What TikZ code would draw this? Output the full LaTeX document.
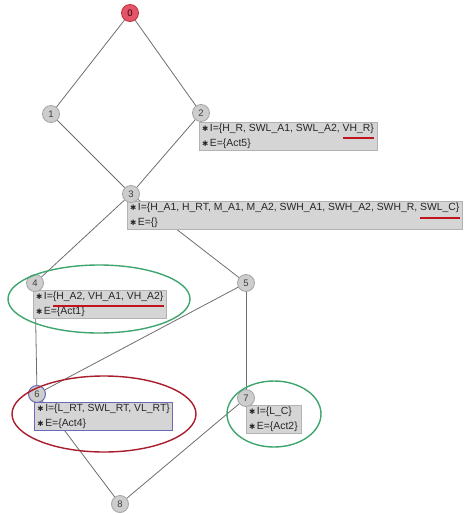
\documentclass[tikz,border=0pt]{standalone}
\usepackage{fontspec}
\setmainfont{Liberation Sans}
\newfontfamily\dejavu{DejaVu Sans}
\usetikzlibrary{backgrounds}
\pgfdeclarelayer{foreground}
\pgfsetlayers{background,main,foreground}
\definecolor{stategray}{HTML}{CDCDCD}
\definecolor{stateline}{HTML}{A4A4A4}
\definecolor{infogray}{HTML}{D5D5D5}
\definecolor{infoline}{HTML}{B2B2B2}
\definecolor{edgegray}{HTML}{6E6E6E}
\definecolor{markred}{HTML}{C0141E}
\definecolor{ringgreen}{HTML}{3FA56E}
\definecolor{ringred}{HTML}{A81C2C}
\definecolor{selblue}{HTML}{6A6AB8}
\definecolor{startred}{HTML}{E2566A}
\newcommand\infofont{\fontsize{10.4}{15}\selectfont}
\newcommand\bugicon{{\dejavu\fontsize{7.5}{7.5}\selectfont ✱}\hspace{1.5pt}}
\newlength\ulvhr
\newlength\ulswlc
\newlength\ulhvv
\begin{document}
\settowidth\ulvhr{\infofont VH\_R\}}
\settowidth\ulswlc{\infofont SWL\_C\}}
\settowidth\ulhvv{\infofont\{H\_A2, VH\_A1, VH\_A2\}}
\begin{tikzpicture}[x=1pt,y=-1pt,
    state/.style={circle,draw=stateline,fill=stategray,line width=0.8pt,minimum size=17pt,inner sep=0pt,font=\fontsize{9.5}{9.5}\selectfont,text=black!75},
    start/.style={state,draw=markred!90,fill=startred,text=red!25!black},
    info/.style={draw=infoline,fill=infogray,anchor=north west,align=left,inner xsep=3pt,inner ysep=1.5pt,font=\infofont,text=black!85},
    picked/.style={draw=selblue,line width=1pt},
    edge/.style={draw=edgegray,line width=0.8pt},
    newitem/.style={draw=markred,line width=1.4pt},
    ring/.style={line width=1.4pt}]
  \useasboundingbox (0,0) rectangle (474,515);
  % states of the lattice
  \begin{pgfonlayer}{foreground}
    \node[start] (s0) at (130,13) {0};
    \node[state] (s1) at (51,114) {1};
    \node[state] (s2) at (201,113) {2};
    \node[state] (s3) at (131,194) {3};
    \node[state] (s4) at (35,283) {4};
    \node[state] (s5) at (246,283) {5};
    \node[state,picked] (s6) at (37,394) {6};
    \node[state] (s7) at (246,398) {7};
    \node[state] (s8) at (120,504) {8};
  \end{pgfonlayer}
  % info boxes
  \node[info] (i2) at ([shift={(-2,9)}]s2.center) {\bugicon I=\{H\_R, SWL\_A1, SWL\_A2, VH\_R\}\\\bugicon E=\{Act5\}};
  \node[info] (i3) at ([shift={(-4,7)}]s3.center) {\bugicon I=\{H\_A1, H\_RT, M\_A1, M\_A2, SWH\_A1, SWH\_A2, SWH\_R, SWL\_C\}\\\bugicon E=\{\}};
  \node[info] (i4) at ([shift={(-2,7)}]s4.center) {\bugicon I=\{H\_A2, VH\_A1, VH\_A2\}\\\bugicon E=\{Act1\}};
  \node[info,picked] (i6) at ([shift={(-3,8)}]s6.center) {\bugicon I=\{L\_RT, SWL\_RT, VL\_RT\}\\\bugicon E=\{Act4\}};
  \node[info] (i7) at ([shift={(0,7)}]s7.center) {\bugicon I=\{L\_C\}\\\bugicon E=\{Act2\}};
  % red marks under the new items
  \draw[newitem] ([shift={(-3,16)}]i2.north east) -- ++(-\ulvhr,0);
  \draw[newitem] ([shift={(-3,17)}]i3.north east) -- ++(-\ulswlc,0);
  \draw[newitem] ([shift={(-3,16)}]i4.north east) -- ++(-\ulhvv,0);
  % edges
  \begin{pgfonlayer}{background}
    \foreach \a/\b in {s0/s1,s0/s2,s1/s3,s2/s3,s3/s4,s3/s5,s4/s6,s5/s6,s5/s7,s6/s8,s7/s8}
      \draw[edge] (\a) -- (\b);
  \end{pgfonlayer}
  % marked groups
  \begin{pgfonlayer}{foreground}
    \draw[ring,ringgreen] (99,299) ellipse [x radius=91,y radius=34];
    \draw[ring,ringred] (104,414) ellipse [x radius=92,y radius=38];
    \draw[ring,ringgreen] (274,414) ellipse [x radius=47,y radius=33];
  \end{pgfonlayer}
\end{tikzpicture}
\end{document}
